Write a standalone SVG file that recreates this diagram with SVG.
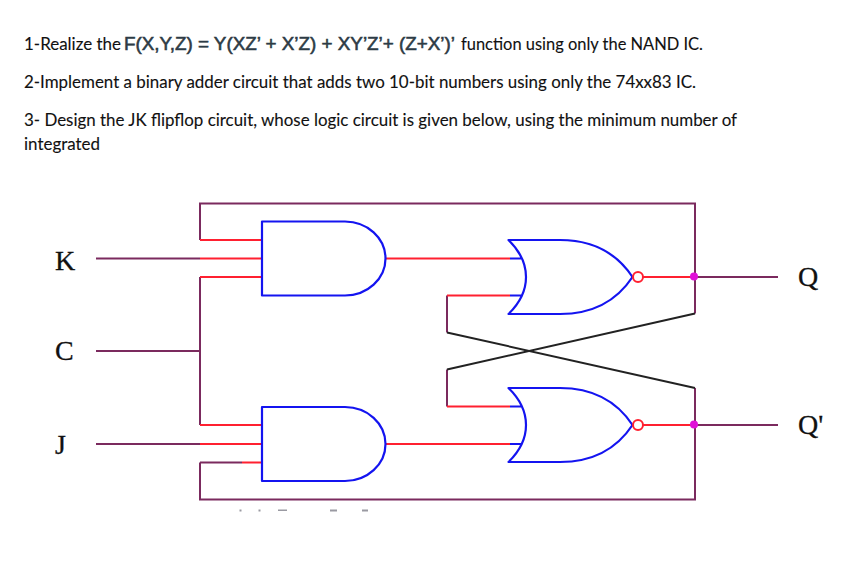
<svg xmlns="http://www.w3.org/2000/svg" width="857" height="582" viewBox="0 0 857 582">
<style>
.t{font-family:"Lato","Carlito","Open Sans",sans-serif;font-size:17.8px;fill:#111;stroke:#111;stroke-width:.12}
.f{font-family:"Liberation Sans",Arial,sans-serif;font-size:18px;fill:#2d3b45;stroke:#2d3b45;stroke-width:.55}
.l{font-family:"Liberation Serif","Times New Roman",serif;font-size:28px;fill:#111;stroke:#111;stroke-width:.3}
.d{fill:none;stroke:#7b2a5e;stroke-width:2}
.r{fill:none;stroke:#ff2030;stroke-width:2}
.k{fill:none;stroke:#222;stroke-width:2}
.g{fill:none;stroke:#1414f0;stroke-width:2.2;stroke-linejoin:round}
.b{fill:#fff;stroke:#ff2030;stroke-width:2}
.j{fill:#e010d8}
.m{fill:#9a9aa2}
</style>
<rect width="857" height="582" fill="#fff"/>
<g id="text">
<text class="t" x="24" y="50" textLength="97" lengthAdjust="spacingAndGlyphs">1-Realize the</text>
<text class="f" x="124" y="50" textLength="331" lengthAdjust="spacingAndGlyphs">F(X,Y,Z) = Y(XZ’ + X’Z) + XY’Z’+ (Z+X’)’</text>
<text class="t" x="461" y="50" textLength="242" lengthAdjust="spacingAndGlyphs">function using only the NAND IC.</text>
<text class="t" x="24" y="88" textLength="672" lengthAdjust="spacingAndGlyphs">2-Implement a binary adder circuit that adds two 10-bit numbers using only the 74xx83 IC.</text>
<text class="t" x="24" y="126" textLength="713" lengthAdjust="spacingAndGlyphs">3- Design the JK flipflop circuit, whose logic circuit is given below, using the minimum number of</text>
<text class="t" x="24" y="150" textLength="76" lengthAdjust="spacingAndGlyphs">integrated</text>
</g>
<g id="connectors">
<path class="d" d="M262 203.5H695V313.5M200 240V203.5H262M96 258.5H200M200 277V425M96 351H200M96 444H200M200 462.5H242M200 462.5V499.5H695V388M695 277H778M695 425H778M447 295.5V332.5M447 369.5V406.5"/>
<path class="r" d="M200 240H262M200 258.5H262M200 277H262M200 425H262M200 444H262M242 462.5H262M386 258.5H510M447 295.5H510M447 406.5H510M386 444H510M643 277H693M643 425H693"/>
<path class="k" d="M447 332.5L695 388M447 369.5L695 313.5"/>
</g>
<g id="and-top"><path class="g" d="M262 221.5H345A40.5 37 0 0 1 345 295.5H262Z"/></g>
<g id="and-bottom"><path class="g" d="M262 407H345A40.5 37 0 0 1 345 481H262Z"/></g>
<g id="nor-top">
<path class="g" d="M508.5 240H560Q608 240 632.5 277Q608 314 560 314H508.5Q526 297 526 277Q526 257 508.5 240ZM510 258.5H521.5M510 295.5H521.5"/>
<circle class="b" cx="638" cy="277" r="5"/>
</g>
<g id="nor-bottom">
<path class="g" d="M508.5 388H560Q608 388 632.5 425Q608 462 560 462H508.5Q526 445 526 425Q526 405 508.5 388ZM510 406.5H521.5M510 444H521.5"/>
<circle class="b" cx="638" cy="425" r="5"/>
</g>
<g id="junction-q"><circle class="j" cx="694" cy="276.5" r="4"/></g>
<g id="junction-qn"><circle class="j" cx="694" cy="424.5" r="4"/></g>
<g id="label-k"><text class="l" x="55" y="270">K</text></g>
<g id="label-c"><text class="l" x="55" y="360">C</text></g>
<g id="label-j"><text class="l" x="55" y="454">J</text></g>
<g id="label-q"><text class="l" x="798" y="286">Q</text></g>
<g id="label-qn"><text class="l" x="798" y="434">Q'</text></g>
<g id="clipped-marks">
<rect class="m" x="239.500" y="509.500" width="2" height="2"/>
<rect class="m" x="258.500" y="509.500" width="2" height="2"/>
<rect class="m" x="278" y="509.500" width="9" height="1.500"/>
<rect class="m" x="330" y="509.500" width="7" height="2"/>
<rect class="m" x="362" y="509.500" width="6" height="2"/>
</g>
</svg>
